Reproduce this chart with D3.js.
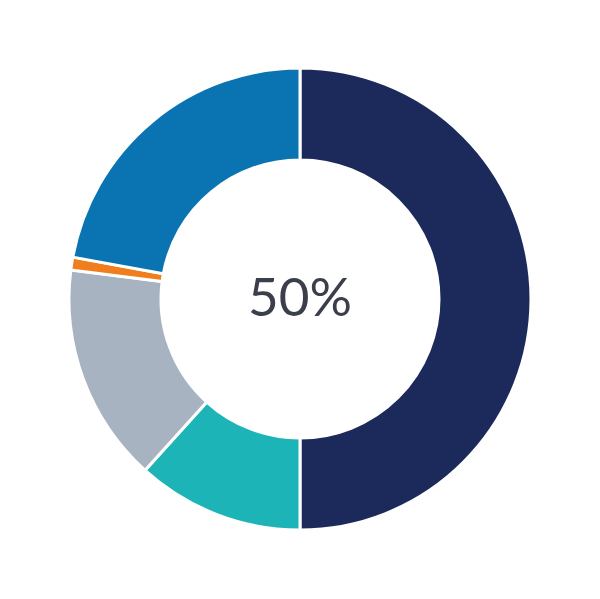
<!DOCTYPE html>
<html>
<head>
<meta charset="utf-8">
<script src="https://cdn.jsdelivr.net/npm/d3@7"></script>
<style>
  html, body { margin: 0; padding: 0; background: #fff; }
</style>
</head>
<body>
<div id="chart"></div>
<script>
// Segment shares, clockwise from 12 o'clock
const segments = ["A", "B", "C", "D", "E"];
const shares = [50, 11.7, 15.3, 0.9, 22.1];
const colours = ["#1b2a5b", "#1cb4b6", "#a8b3c2", "#f07d1e", "#0a74b2"];
const centreLabel = "50%";

const width = 600;
const height = 599;
const cx = 300;
const cy = 299;
const outerR = 231;
const innerR = 139;

const svg = d3.select("#chart")
  .append("svg")
  .attr("width", width)
  .attr("height", height);

const g = svg.append("g").attr("transform", `translate(${cx},${cy})`);

const pie = d3.pie().sort(null).value(function (d, i) { return shares[i]; });
const arc = d3.arc().innerRadius(innerR).outerRadius(outerR);

const colour = d3.scaleOrdinal().domain(segments).range(colours);

g.selectAll("path")
  .data(pie(segments))
  .enter()
  .append("path")
  .attr("d", arc)
  .attr("fill", function (d) { return colour(d.data); })
  .attr("stroke", "#fff")
  .attr("stroke-width", 3);

// centre text
g.append("text")
  .attr("x", 0)
  .attr("y", 17)
  .attr("text-anchor", "middle")
  .attr("font-family", "Lato, sans-serif")
  .attr("font-size", 53)
  .attr("fill", "#3a3f4b")
  .text(centreLabel);
</script>
</body>
</html>
